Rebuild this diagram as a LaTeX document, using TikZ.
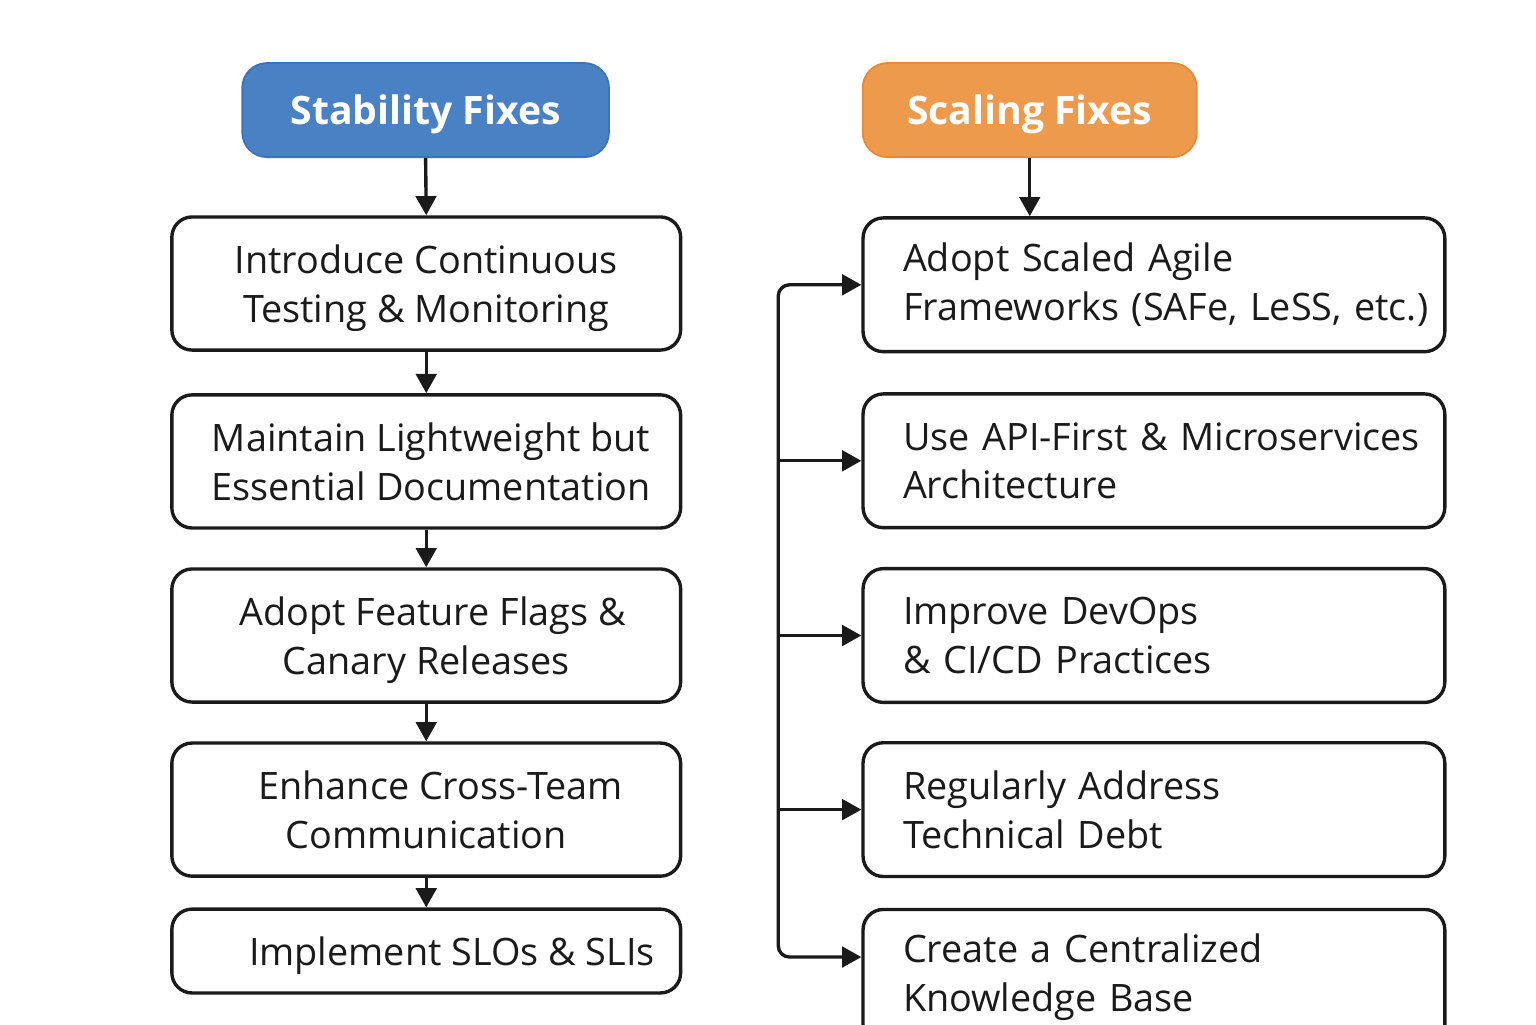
\documentclass[tikz,border=0pt]{standalone}
\usepackage{fontspec}
\setmainfont{Open Sans}
\usepackage{xcolor}
\usetikzlibrary{positioning,arrows.meta,calc}
\definecolor{stabblue}{HTML}{4A80C4}
\definecolor{stabedge}{HTML}{3F73B8}
\definecolor{scalorange}{HTML}{EE9A4D}
\definecolor{scaledge}{HTML}{E58A3C}
\definecolor{ink}{HTML}{1A1A1A}
\tikzset{
  >={Triangle[length=3mm,width=3.2mm]},
  hdr/.style={rounded corners=11pt,align=center,text=white,minimum height=1.47cm,text depth=0pt,
    font=\fontsize{17.4}{22}\selectfont\bfseries,line width=0.8pt},
  blk/.style={draw=ink,line width=1.5pt,rounded corners=9pt,text=ink,
    font=\fontsize{16.8}{21.7}\selectfont},
  lblk/.style={blk,align=center,text depth=0pt,minimum width=7.95cm,minimum height=2.08cm},
  rblk/.style={blk,align=left,text width=7.84cm,inner xsep=0.625cm,minimum height=2.09cm},
  ar/.style={->,line width=1.5pt,draw=ink},
}
\begin{document}
\begin{tikzpicture}
  \useasboundingbox (0,0) rectangle (24,-16);
  % headers
  \node[hdr,fill=stabblue,draw=stabedge,minimum width=5.73cm] (stab) at (6.65,-1.72) {Stability Fixes};
  \node[hdr,fill=scalorange,draw=scaledge,minimum width=5.22cm] (scal) at (16.09,-1.72) {Scaling Fixes};
  % stability column
  \node[lblk] (st1) at (6.66,-4.43) {Introduce Continuous\\Testing \& Monitoring};
  \node[lblk] (st2) at (6.66,-7.21) {\hspace*{0.15cm}Maintain Lightweight but\\\hspace*{0.15cm}Essential Documentation};
  \node[lblk] (st3) at (6.66,-9.93) {\hspace*{0.2cm}Adopt Feature Flags \&\\Canary Releases};
  \node[lblk] (st4) at (6.66,-12.65) {\hspace*{0.45cm}Enhance Cross-Team\\Communication};
  \node[lblk,minimum height=1.31cm] (st5) at (6.66,-14.86) {\hspace*{0.8cm}Implement SLOs \& SLIs};
  \draw[ar] (stab.south) -- (st1.north);
  \foreach \a/\b in {st1/st2,st2/st3,st3/st4,st4/st5}
    \draw[ar] (\a.south) -- (\b.north);
  % scaling column
  \node[rblk] (sc1) at (18.03,-4.45) {Adopt Scaled Agile\\\mbox{Frameworks (SAFe, LeSS, etc.)}};
  \node[rblk] (sc2) at (18.03,-7.20) {\mbox{Use API-First \& Microservices}\\Architecture};
  \node[rblk] (sc3) at (18.03,-9.93) {Improve DevOps\\\& CI/CD Practices};
  \node[rblk] (sc4) at (18.03,-12.65) {Regularly Address\\Technical Debt};
  \node[rblk,minimum height=2.12cm] (sc5) at (18.03,-15.27) {Create a Centralized\\Knowledge Base};
  \draw[ar] (scal.south) -- (scal.south |- sc1.north);
  \coordinate (bus) at (12.16,-4.44);
  \coordinate (k5) at ($(sc5.north west)+(0,-0.77)$);
  \draw[ar,<->,rounded corners=5pt]
    (sc1.west) -| (bus |- k5) -- (k5);
  \foreach \n in {sc2,sc3,sc4}
    \draw[ar] (bus |- \n.west) -- (\n.west);
\end{tikzpicture}
\end{document}
